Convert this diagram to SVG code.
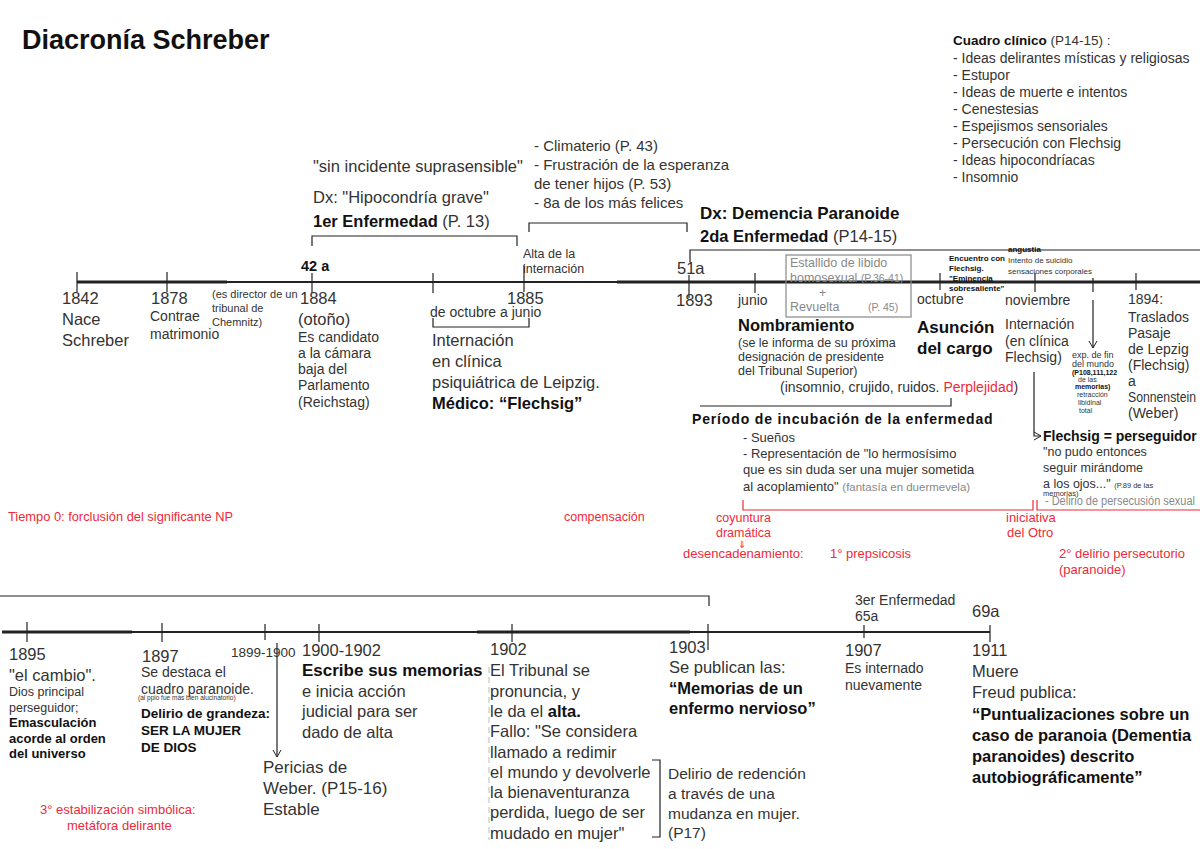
<svg xmlns="http://www.w3.org/2000/svg" width="1200" height="849" viewBox="0 0 1200 849">
<defs>
<style>
text{font-family:"Liberation Sans",Arial,sans-serif;fill:#333;}
.b{font-weight:bold;fill:#111;}
.r{fill:#ee2a3a;}
.g{fill:#888;}
.ln{stroke:#222;fill:none;stroke-width:1.2;}
.tl{stroke:#222;stroke-width:2;fill:none;}
.tk{stroke:#222;stroke-width:3.2;fill:none;}
.rl{stroke:#ee2a3a;stroke-width:1.2;fill:none;}
</style>
<marker id="ah" markerWidth="10" markerHeight="10" refX="8" refY="5" orient="auto" markerUnits="userSpaceOnUse">
<path d="M1,1 L8,5 L1,9" fill="none" stroke="#222" stroke-width="1"/>
</marker>
</defs>
<rect width="1200" height="849" fill="#fff"/>

<text x="22" y="49" class="b" font-size="27">Diacronía Schreber</text>

<g id="connectors">
<!-- top timeline -->
<line class="tl" x1="77" y1="282" x2="1200" y2="282"/>
<line class="tk" x1="77" y1="282" x2="227" y2="282"/>
<line class="tk" x1="617" y1="282" x2="1200" y2="282"/>
<g class="ln">
<line x1="77" y1="272" x2="77" y2="292"/>
<line x1="167" y1="272" x2="167" y2="292"/>
<line x1="312" y1="273" x2="312" y2="293"/>
<line x1="433" y1="273" x2="433" y2="293"/>
<line x1="524" y1="265" x2="524" y2="292"/>
<line x1="689" y1="275" x2="689" y2="298"/>
<line x1="755" y1="273" x2="755" y2="293"/>
<line x1="940" y1="273" x2="940" y2="290"/>
<line x1="1035" y1="273" x2="1035" y2="292"/>
<line x1="1093" y1="278" x2="1093" y2="292"/>
<line x1="1136" y1="273" x2="1136" y2="290"/>
<!-- brackets top -->
<polyline points="312,246 312,236 517,236 517,246"/>
<polyline points="529,232 529,223 687,223 687,232"/>
<polyline points="690,262 690,250 1200,250"/>
<polyline points="433,318 433,327 529,327 529,318"/>
<polyline points="700,406 951,406 951,398"/>
<line x1="1093" y1="300" x2="1093" y2="348" marker-end="url(#ah)"/>
<polyline points="1034,372 1034,436 1041,436" marker-end="url(#ah)"/>
</g>
<rect x="786" y="255" width="125" height="62" fill="none" stroke="#888" stroke-width="1.2"/>
<!-- red brackets -->
<polyline class="rl" points="743,500 743,510 1033,510 1033,500"/>
<polyline class="rl" points="1037,500 1037,510 1200,510"/>

<!-- bottom -->
<polyline class="ln" points="0,596 709,596 709,606"/>
<line class="tl" x1="2" y1="632" x2="990" y2="632"/>
<line class="tk" x1="2" y1="632" x2="132" y2="632"/>
<line class="tk" x1="477" y1="632" x2="690" y2="632"/>
<g class="ln">
<line x1="27" y1="622" x2="27" y2="642"/>
<line x1="162" y1="623" x2="162" y2="642"/>
<line x1="265" y1="624" x2="265" y2="640"/>
<line x1="319" y1="624" x2="319" y2="642"/>
<line x1="512" y1="624" x2="512" y2="642"/>
<line x1="708" y1="624" x2="708" y2="650"/>
<line x1="864" y1="625" x2="864" y2="638"/>
<line x1="990" y1="625" x2="990" y2="642"/>
<line x1="277" y1="643" x2="277" y2="757" marker-end="url(#ah)"/>
<polyline points="652,760 660,760 660,837 652,837"/>
</g>
<line x1="489" y1="667" x2="489" y2="840" stroke="#bbb" stroke-width="1" stroke-dasharray="6,4"/>
</g>

<g id="cuadro">
<text x="953" y="45" font-size="13.5"><tspan class="b">Cuadro clínico</tspan> (P14-15) :</text>
<text x="953" y="63" font-size="14">- Ideas delirantes místicas y religiosas</text>
<text x="953" y="80" font-size="14">- Estupor</text>
<text x="953" y="97" font-size="14">- Ideas de muerte e intentos</text>
<text x="953" y="114" font-size="14">- Cenestesias</text>
<text x="953" y="131" font-size="14">- Espejismos sensoriales</text>
<text x="953" y="148" font-size="14">- Persecución con Flechsig</text>
<text x="953" y="165" font-size="14">- Ideas hipocondríacas</text>
<text x="953" y="182" font-size="14">- Insomnio</text>
</g>

<g id="n1842">
<text x="62" y="304" font-size="16.5">1842</text>
<text x="62" y="325" font-size="16.5">Nace</text>
<text x="62" y="346" font-size="16.5">Schreber</text>
</g>
<g id="n1878">
<text x="151" y="304" font-size="16.5">1878</text>
<text x="150" y="321" font-size="14">Contrae</text>
<text x="150" y="339" font-size="14">matrimonio</text>
<text x="212" y="298" font-size="11">(es director de un</text>
<text x="212" y="312" font-size="11">tribunal de</text>
<text x="212" y="326" font-size="11">Chemnitz)</text>
</g>
<g id="n1884">
<text x="301" y="271" font-size="14.5" class="b">42 a</text>
<text x="300" y="304" font-size="16.5">1884</text>
<text x="298" y="325" font-size="16.5">(otoño)</text>
<text x="298" y="342" font-size="14">Es candidato</text>
<text x="298" y="358" font-size="14">a la cámara</text>
<text x="298" y="374" font-size="14">baja del</text>
<text x="298" y="390" font-size="14">Parlamento</text>
<text x="298" y="407" font-size="14">(Reichstag)</text>
</g>
<g id="enf1">
<text x="313" y="172" font-size="16.5">"sin incidente suprasensible"</text>
<text x="313" y="203" font-size="16.5">Dx: "Hipocondría grave"</text>
<text x="313" y="227" font-size="16.5"><tspan class="b">1er Enfermedad</tspan> (P. 13)</text>
</g>
<g id="felices">
<text x="534" y="151" font-size="15">- Climaterio (P. 43)</text>
<text x="534" y="170" font-size="15">- Frustración de la esperanza</text>
<text x="534" y="189" font-size="15">de tener hijos (P. 53)</text>
<text x="534" y="208" font-size="15">- 8a de los más felices</text>
</g>
<g id="n1885">
<text x="523" y="258" font-size="12.5">Alta de la</text>
<text x="523" y="273" font-size="12.5">internación</text>
<text x="507" y="304" font-size="16.5">1885</text>
<text x="430" y="317" font-size="14">de octubre a junio</text>
<text x="432" y="346" font-size="16.5">Internación</text>
<text x="432" y="367" font-size="16.5">en clínica</text>
<text x="432" y="388" font-size="16.5">psiquiátrica de Leipzig.</text>
<text x="432" y="409" font-size="16.5" class="b">Médico: “Flechsig”</text>
</g>
<g id="n1893">
<text x="677" y="274" font-size="16.5">51a</text>
<text x="676" y="306" font-size="16.5">1893</text>
<text x="700" y="219" font-size="17" class="b">Dx: Demencia Paranoide</text>
<text x="700" y="242" font-size="16.5"><tspan class="b">2da Enfermedad</tspan> (P14-15)</text>
</g>
<g id="estallido">
<text x="790" y="267" font-size="12.5" class="g">Estallido de libido</text>
<text x="790" y="282" font-size="12.5" class="g">homosexual <tspan font-size="10.5">(P.36-41)</tspan></text>
<text x="819" y="297" font-size="12.5" class="g">+</text>
<text x="790" y="311" font-size="12.5" class="g">Revuelta</text>
<text x="868" y="311" font-size="10.5" class="g">(P. 45)</text>
</g>
<g id="junio">
<text x="738" y="305" font-size="14">junio</text>
<text x="738" y="331" font-size="16.5" class="b">Nombramiento</text>
<text x="738" y="347" font-size="12.5">(se le informa de su próxima</text>
<text x="738" y="361" font-size="12.5">designación de presidente</text>
<text x="738" y="375" font-size="12.5">del Tribunal Superior)</text>
<text x="780" y="392" font-size="14">(insomnio, crujido, ruidos. <tspan class="r">Perplejidad</tspan>)</text>
</g>
<g id="incubacion">
<text x="692" y="424" font-size="14" class="b" letter-spacing="0.85">Período de incubación de la enfermedad</text>
<text x="743" y="442" font-size="13">- Sueños</text>
<text x="743" y="458" font-size="13">- Representación de "lo hermosísimo</text>
<text x="743" y="474" font-size="13">que es sin duda ser una mujer sometida</text>
<text x="743" y="491" font-size="13">al acoplamiento" <tspan class="g" font-size="11.5">(fantasía en duermevela)</tspan></text>
</g>
<g id="octubre">
<text x="917" y="304" font-size="14">octubre</text>
<text x="917" y="333" font-size="17" class="b">Asunción</text>
<text x="917" y="354" font-size="17" class="b">del cargo</text>
<text x="949" y="261" font-size="8" class="b">Encuentro con</text>
<text x="949" y="271" font-size="8" class="b">Flechsig.</text>
<text x="949" y="281" font-size="8" class="b">"Eminencia</text>
<text x="949" y="291" font-size="8" class="b">sobresaliente"</text>
</g>
<g id="noviembre">
<text x="1008" y="252" font-size="8" class="b">angustia</text>
<text x="1008" y="263" font-size="8">Intento de suicidio</text>
<text x="1008" y="274" font-size="8">sensaciones corporales</text>
<text x="1005" y="305" font-size="14">noviembre</text>
<text x="1005" y="329" font-size="14">Internación</text>
<text x="1005" y="346" font-size="14">(en clínica</text>
<text x="1005" y="362" font-size="14">Flechsig)</text>
</g>
<g id="finmundo">
<text x="1072" y="358" font-size="9">exp. de fin</text>
<text x="1072" y="367" font-size="9">del mundo</text>
<text x="1072" y="375" font-size="7" class="b">(P108,111,122</text>
<text x="1078" y="382" font-size="7">de las</text>
<text x="1075" y="389" font-size="7" class="b">memorias)</text>
<text x="1077" y="397" font-size="7">retracción</text>
<text x="1078" y="405" font-size="7">libidinal</text>
<text x="1079" y="413" font-size="7">total</text>
</g>
<g id="n1894">
<text x="1128" y="304" font-size="14">1894:</text>
<text x="1128" y="322" font-size="14">Traslados</text>
<text x="1128" y="338" font-size="14">Pasaje</text>
<text x="1128" y="354" font-size="14">de Lepzig</text>
<text x="1128" y="370" font-size="14">(Flechsig)</text>
<text x="1128" y="386" font-size="14">a</text>
<text x="1128" y="402" font-size="14" textLength="68" lengthAdjust="spacingAndGlyphs">Sonnenstein</text>
<text x="1128" y="418" font-size="14">(Weber)</text>
</g>
<g id="perseguidor">
<text x="1043" y="441" font-size="14" class="b">Flechsig = perseguidor</text>
<text x="1043" y="456" font-size="12.5">"no pudo entonces</text>
<text x="1043" y="472" font-size="12.5">seguir mirándome</text>
<text x="1043" y="488" font-size="12.5">a los ojos..." <tspan font-size="7.5">(P.89 de las</tspan></text>
<text x="1043" y="496" font-size="7.5">memorias)</text>
<text x="1045" y="505" font-size="12.5" class="g" textLength="150" lengthAdjust="spacingAndGlyphs">- Delirio de persecusión sexual</text>
</g>
<g id="red">
<text x="8" y="521" font-size="13" class="r" textLength="225" lengthAdjust="spacingAndGlyphs">Tiempo 0: forclusión del significante NP</text>
<text x="564" y="521" font-size="12.5" class="r">compensación</text>
<text x="716" y="522" font-size="12.5" class="r">coyuntura</text>
<text x="716" y="537" font-size="12.5" class="r">dramática</text>
<text x="738" y="548" font-size="10" class="r" style="font-family:'DejaVu Sans',sans-serif">⇓</text>
<text x="683" y="558" font-size="13" class="r">desencadenamiento:</text>
<text x="830" y="558" font-size="13" class="r">1° prepsicosis</text>
<text x="1006" y="522" font-size="13" class="r">iniciativa</text>
<text x="1007" y="537" font-size="13" class="r">del Otro</text>
<text x="1059" y="558" font-size="13" class="r">2° delirio persecutorio</text>
<text x="1059" y="574" font-size="13" class="r">(paranoide)</text>
<text x="40" y="814" font-size="13" class="r">3° estabilización simbólica:</text>
<text x="67" y="830" font-size="13" class="r">metáfora delirante</text>
</g>
<g id="n1895">
<text x="9" y="660" font-size="16.5">1895</text>
<text x="9" y="681" font-size="16.5">"el cambio".</text>
<text x="9" y="696" font-size="12.5">Dios principal</text>
<text x="9" y="712" font-size="12.5">perseguidor;</text>
<text x="9" y="727" font-size="13" class="b">Emasculación</text>
<text x="9" y="743" font-size="13" class="b">acorde al orden</text>
<text x="9" y="758" font-size="13" class="b">del universo</text>
</g>
<g id="n1897">
<text x="142" y="662" font-size="16.5">1897</text>
<text x="141" y="677" font-size="14">Se destaca el</text>
<text x="141" y="694" font-size="14">cuadro paranoide.</text>
<text x="138" y="700" font-size="6.5">(al ppio fue más bien alucinatorio)</text>
<text x="141" y="718" font-size="13.5" class="b">Delirio de grandeza:</text>
<text x="141" y="735" font-size="13.5" class="b">SER LA MUJER</text>
<text x="141" y="752" font-size="13.5" class="b">DE DIOS</text>
</g>
<g id="n1899">
<text x="231" y="657" font-size="13.5">1899-1900</text>
<text x="263" y="773" font-size="17">Pericias de</text>
<text x="263" y="794" font-size="17">Weber. (P15-16)</text>
<text x="263" y="815" font-size="17">Estable</text>
</g>
<g id="n1900">
<text x="302" y="656" font-size="16.5">1900-1902</text>
<text x="302" y="676" font-size="17" class="b">Escribe sus memorias</text>
<text x="302" y="697" font-size="16.5">e inicia acción</text>
<text x="302" y="717" font-size="16.5">judicial para ser</text>
<text x="302" y="738" font-size="16.5">dado de alta</text>
</g>
<g id="n1902">
<text x="490" y="655" font-size="16.5">1902</text>
<text x="490" y="676" font-size="16.5">El Tribunal se</text>
<text x="490" y="697" font-size="16.5">pronuncia, y</text>
<text x="490" y="717" font-size="16.5">le da el <tspan class="b">alta.</tspan></text>
<text x="490" y="737" font-size="16.5">Fallo: "Se considera</text>
<text x="490" y="758" font-size="16.5">llamado a redimir</text>
<text x="490" y="778" font-size="16.5">el mundo y devolverle</text>
<text x="490" y="798" font-size="16.5">la bienaventuranza</text>
<text x="490" y="818" font-size="16.5">perdida, luego de ser</text>
<text x="490" y="839" font-size="16.5">mudado en mujer"</text>
<text x="668" y="779" font-size="15.5">Delirio de redención</text>
<text x="668" y="799" font-size="15.5">a través de una</text>
<text x="668" y="819" font-size="15.5">mudanza en mujer.</text>
<text x="668" y="838" font-size="15.5">(P17)</text>
</g>
<g id="n1903">
<text x="669" y="653" font-size="16.5">1903</text>
<text x="669" y="673" font-size="16.5">Se publican las:</text>
<text x="669" y="694" font-size="16.5" class="b">“Memorias de un</text>
<text x="669" y="714" font-size="16.5" class="b">enfermo nervioso”</text>
</g>
<g id="n1907">
<text x="855" y="605" font-size="14">3er Enfermedad</text>
<text x="855" y="621" font-size="14">65a</text>
<text x="845" y="656" font-size="16.5">1907</text>
<text x="845" y="673" font-size="14">Es internado</text>
<text x="845" y="690" font-size="14">nuevamente</text>
</g>
<g id="n1911">
<text x="972" y="617" font-size="16.5">69a</text>
<text x="972" y="656" font-size="16.5">1911</text>
<text x="972" y="677" font-size="16.5">Muere</text>
<text x="972" y="698" font-size="16.5">Freud publica:</text>
<text x="972" y="720" font-size="16.5" class="b">“Puntualizaciones sobre un</text>
<text x="972" y="741" font-size="16.5" class="b">caso de paranoia (Dementia</text>
<text x="972" y="762" font-size="16.5" class="b">paranoides) descrito</text>
<text x="972" y="783" font-size="16.5" class="b">autobiográficamente”</text>
</g>
</svg>
